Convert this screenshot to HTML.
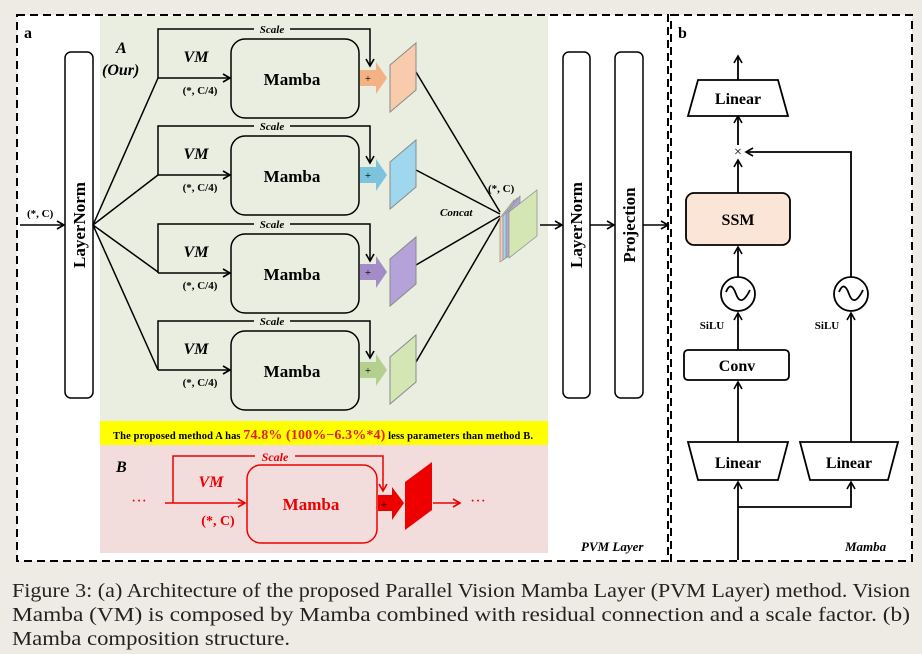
<!DOCTYPE html>
<html><head><style>body{margin:0;background:#eeebe5}svg{display:block}</style></head><body>
<svg width="922" height="654" viewBox="0 0 922 654" xmlns="http://www.w3.org/2000/svg" font-family="Liberation Serif, serif">
<defs>
<marker id="ar" markerWidth="10" markerHeight="10" refX="8" refY="5" orient="auto" markerUnits="userSpaceOnUse"><path d="M1,1 L8,5 L1,9" fill="none" stroke="#000" stroke-width="1.6"/></marker>
<marker id="rr" markerWidth="10" markerHeight="10" refX="8" refY="5" orient="auto" markerUnits="userSpaceOnUse"><path d="M1,1 L8,5 L1,9" fill="none" stroke="#e00" stroke-width="1.6"/></marker>
</defs>
<rect x="0" y="0" width="922" height="654" fill="#eeebe5"/>
<rect x="17" y="15" width="895" height="546" fill="#fff"/>
<rect x="100" y="16" width="448" height="405" fill="#e9eee0"/>
<rect x="100" y="421" width="448" height="24" fill="#ffff00"/>
<rect x="100" y="445" width="448" height="108" fill="#f2dcdc"/>
<rect x="17" y="15" width="651" height="546" fill="none" stroke="#000" stroke-width="2" stroke-dasharray="8,5"/>
<rect x="671" y="15" width="241" height="546" fill="none" stroke="#000" stroke-width="2" stroke-dasharray="8,5"/>
<text x="24" y="38" font-weight="bold" font-size="16">a</text>
<text x="678" y="38" font-weight="bold" font-size="16">b</text>
<text x="27" y="217" font-weight="bold" font-size="11">(*, C)</text>
<line x1="20" y1="225" x2="64" y2="225" stroke="#000" stroke-width="1.5" marker-end="url(#ar)"/>
<rect x="65" y="52" width="28" height="346" rx="6" fill="#fff" stroke="#000" stroke-width="1.5"/>
<text transform="translate(85,225) rotate(-90)" text-anchor="middle" font-weight="bold" font-size="17">LayerNorm</text>
<text x="116" y="53" font-weight="bold" font-style="italic" font-size="16">A</text>
<text x="102" y="75" font-weight="bold" font-style="italic" font-size="16">(Our)</text>
<g stroke="#000" stroke-width="1.5" fill="none">
<line x1="93" y1="225" x2="158" y2="78"/><line x1="93" y1="225" x2="158" y2="175"/><line x1="93" y1="225" x2="158" y2="272"/><line x1="93" y1="225" x2="158" y2="370"/>
<line x1="416" y1="72" x2="500" y2="212"/><line x1="416" y1="170" x2="500" y2="214"/><line x1="416" y1="265" x2="500" y2="216"/><line x1="416" y1="362" x2="500" y2="218"/>
</g>
<g id="br">
<path d="M158,78 V29 H254 M290,29 H370 V66" stroke="#000" stroke-width="1.5" fill="none" marker-end="url(#ar)"/>
<line x1="158" y1="78" x2="230" y2="78" stroke="#000" stroke-width="1.5" marker-end="url(#ar)"/>
<text x="272" y="33" text-anchor="middle" font-weight="bold" font-style="italic" font-size="11">Scale</text>
<text x="196" y="62" text-anchor="middle" font-weight="bold" font-style="italic" font-size="16">VM</text>
<text x="200" y="94" text-anchor="middle" font-weight="bold" font-size="11">(*, C/4)</text>
<rect x="231" y="39" width="128" height="79" rx="14" fill="none" stroke="#000" stroke-width="1.5"/>
<text x="292" y="85" text-anchor="middle" font-weight="bold" font-size="17">Mamba</text>
</g>
<use href="#br" y="97"/><use href="#br" y="195"/><use href="#br" y="292"/>
<g font-size="11" text-anchor="middle">
<path d="M360,70 H376 V62 L387,78 L376,94 V86 H360Z" fill="#f4b183"/><text x="368" y="82">+</text>
<polygon points="390,65 416,43 416,90 390,112" fill="#f8cbad" stroke="#8a8a8a"/>
<path d="M360,167 H376 V159 L387,175 L376,191 V183 H360Z" fill="#7cc3dd"/><text x="368" y="179">+</text>
<polygon points="390,162 416,140 416,187 390,209" fill="#9fd7ee" stroke="#8a8a8a"/>
<path d="M360,264 H376 V256 L387,272 L376,288 V280 H360Z" fill="#a48cc8"/><text x="368" y="276">+</text>
<polygon points="390,259 416,237 416,284 390,306" fill="#b4a2d8" stroke="#8a8a8a"/>
<path d="M360,362 H376 V354 L387,370 L376,386 V378 H360Z" fill="#b5d08e"/><text x="368" y="374">+</text>
<polygon points="390,357 416,335 416,382 390,404" fill="#d3e6b4" stroke="#8a8a8a"/>
</g>
<polygon points="500,218 514,200 514,252 500,262" fill="#f8cbad" stroke="#8a8a8a" stroke-width=".7"/>
<polygon points="503,216 517,198 517,250 503,260" fill="#9fd7ee" stroke="#8a8a8a" stroke-width=".7"/>
<polygon points="506,214 520,196 520,248 506,258" fill="#b4a2d8" stroke="#8a8a8a" stroke-width=".7"/>
<polygon points="509,212 537,190 537,236 509,258" fill="#d3e6b4" stroke="#8a8a8a" stroke-width=".7"/>
<text x="488" y="192" font-weight="bold" font-size="11">(*, C)</text>
<text x="440" y="216" font-weight="bold" font-style="italic" font-size="11">Concat</text>
<line x1="540" y1="225" x2="562" y2="225" stroke="#000" stroke-width="1.5" marker-end="url(#ar)"/>
<rect x="563" y="52" width="27" height="346" rx="6" fill="#fff" stroke="#000" stroke-width="1.5"/>
<text transform="translate(582,225) rotate(-90)" text-anchor="middle" font-weight="bold" font-size="17">LayerNorm</text>
<line x1="590" y1="225" x2="614" y2="225" stroke="#000" stroke-width="1.5" marker-end="url(#ar)"/>
<rect x="615" y="52" width="28" height="346" rx="6" fill="#fff" stroke="#000" stroke-width="1.5"/>
<text transform="translate(635,225) rotate(-90)" text-anchor="middle" font-weight="bold" font-size="17">Projection</text>
<line x1="643" y1="225" x2="668" y2="225" stroke="#000" stroke-width="1.5" marker-end="url(#ar)"/>
<text x="581" y="551" font-weight="bold" font-style="italic" font-size="13">PVM Layer</text>
<text x="113" y="439" font-weight="bold" font-size="10.5" textLength="420" lengthAdjust="spacing">The proposed method A has <tspan fill="#e02020" font-size="14">74.8% (100%−6.3%*4)</tspan> less parameters than method B.</text>
<text x="116" y="472" font-weight="bold" font-style="italic" font-size="16">B</text>
<g fill="#e00" stroke="none">
<text x="131" y="506" font-size="16">···</text>
<text x="470" y="506" font-size="16">···</text>
<text x="275" y="461" text-anchor="middle" font-weight="bold" font-style="italic" font-size="12">Scale</text>
<text x="211" y="487" text-anchor="middle" font-weight="bold" font-style="italic" font-size="16">VM</text>
<text x="218" y="525" text-anchor="middle" font-weight="bold" font-size="14">(*, C)</text>
<text x="311" y="510" text-anchor="middle" font-weight="bold" font-size="17">Mamba</text>
<path d="M378,495 H392 V487 L404,503 L392,520 V511 H378Z"/>
<polygon points="405,482 432,462 432,510 405,530"/>
</g>
<text x="384" y="508" font-size="11" text-anchor="middle">+</text>
<g stroke="#e00" stroke-width="1.5" fill="none">
<line x1="165" y1="503" x2="245" y2="503" marker-end="url(#rr)"/>
<path d="M173,503 V456 H255 M295,456 H383 V491" marker-end="url(#rr)"/>
<rect x="247" y="465" width="130" height="78" rx="14"/>
<line x1="433" y1="503" x2="460" y2="503" marker-end="url(#rr)"/>
</g>
<g stroke="#000" stroke-width="1.8" fill="none">
<line x1="738" y1="80" x2="738" y2="56" marker-end="url(#ar)"/>
<line x1="738" y1="145" x2="738" y2="116" marker-end="url(#ar)"/>
<line x1="738" y1="193" x2="738" y2="160" marker-end="url(#ar)"/>
<line x1="738" y1="277" x2="738" y2="247" marker-end="url(#ar)"/>
<line x1="738" y1="350" x2="738" y2="313" marker-end="url(#ar)"/>
<line x1="738" y1="442" x2="738" y2="382" marker-end="url(#ar)"/>
<path d="M851,277 V152 H746" marker-end="url(#ar)"/>
<line x1="851" y1="442" x2="851" y2="313" marker-end="url(#ar)"/>
<line x1="738" y1="560" x2="738" y2="482" marker-end="url(#ar)"/>
<path d="M738,507 H851 V482" marker-end="url(#ar)"/>
<polygon points="698,80 778,80 788,116 688,116" fill="#fff"/>
<rect x="686" y="193" width="104" height="52" rx="8" fill="#fbe5d6"/>
<circle cx="738" cy="294" r="17" fill="#fff"/><path d="M726,292 Q731,280 736,294 Q741,308 750,290"/>
<circle cx="851" cy="294" r="17" fill="#fff"/><path d="M839,292 Q844,280 849,294 Q854,308 863,290"/>
<rect x="684" y="350" width="105" height="30" rx="4" fill="#fff"/>
<polygon points="688,442 788,442 778,480 698,480" fill="#fff"/>
<polygon points="800,442 898,442 888,480 810,480" fill="#fff"/>
</g>
<text x="738" y="156" text-anchor="middle" font-size="14">×</text>
<g font-weight="bold" text-anchor="middle">
<text x="738" y="104" font-size="16">Linear</text>
<text x="738" y="225" font-size="16">SSM</text>
<text x="737" y="371" font-size="16">Conv</text>
<text x="738" y="468" font-size="16">Linear</text>
<text x="849" y="468" font-size="16">Linear</text>
<text x="712" y="329" font-size="11">SiLU</text>
<text x="827" y="329" font-size="11">SiLU</text>
</g>
<text x="845" y="551" font-weight="bold" font-style="italic" font-size="13">Mamba</text>
<g font-size="20" fill="#222">
<text x="12" y="597" textLength="898" lengthAdjust="spacingAndGlyphs">Figure 3: (a) Architecture of the proposed Parallel Vision Mamba Layer (PVM Layer) method. Vision</text>
<text x="12" y="621" textLength="898" lengthAdjust="spacingAndGlyphs">Mamba (VM) is composed by Mamba combined with residual connection and a scale factor. (b)</text>
<text x="12" y="645" textLength="278" lengthAdjust="spacingAndGlyphs">Mamba composition structure.</text>
</g>
</svg>
</body></html>
